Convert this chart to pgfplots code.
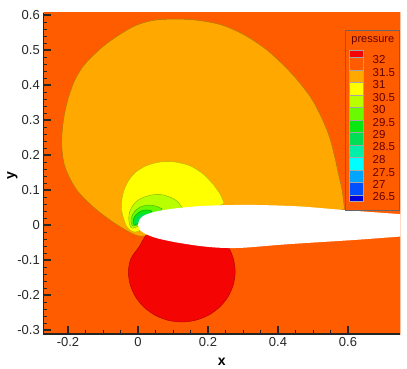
\documentclass[border=0pt]{standalone}
\usepackage{fontspec}
\setmainfont{Liberation Sans}
\usepackage{pgfplots}
\pgfplotsset{compat=1.18}
\definecolor{c32}{RGB}{245,4,4}
\definecolor{c315}{RGB}{255,92,0}
\definecolor{c31}{RGB}{255,168,0}
\definecolor{c305}{RGB}{255,255,0}
\definecolor{c30}{RGB}{185,255,0}
\definecolor{c295}{RGB}{105,250,0}
\definecolor{c29}{RGB}{10,232,20}
\definecolor{c285}{RGB}{0,222,85}
\definecolor{c28}{RGB}{0,240,170}
\definecolor{c275}{RGB}{0,255,255}
\definecolor{c27}{RGB}{0,165,255}
\definecolor{c265}{RGB}{0,80,255}
\definecolor{c26}{RGB}{0,0,220}
\definecolor{legtext}{RGB}{100,0,0}
\begin{document}
\begin{tikzpicture}
\begin{axis}[
  name=ax,
  scale only axis, width=357pt, height=321pt,
  xmin=-0.2706, xmax=0.7494, ymin=-0.3114, ymax=0.6057,
  axis on top,
  axis x line*=bottom, axis y line*=left,
  axis line style={-, line width=1.5pt, black!85},
  xtick={-0.2,0,0.2,0.4,0.6}, xticklabels={-0.2,0,0.2,0.4,0.6},
  ytick={-0.3,-0.2,-0.1,0,0.1,0.2,0.3,0.4,0.5,0.6},
  yticklabels={-0.3,-0.2,-0.1,0,0.1,0.2,0.3,0.4,0.5,0.6},
  minor x tick num=3, minor y tick num=4,
  xtick align=inside, ytick align=inside,
  major tick length=8pt, minor tick length=4pt,
  major tick style={line width=1.4pt, black!85},
  minor tick style={line width=0.7pt, black!85},
  ticklabel style={font=\fontsize{13}{15}\selectfont, text=black!85},
  xlabel={x}, ylabel={y},
  label style={font=\bfseries\fontsize{14}{16}\selectfont},
  xlabel style={at={(axis description cs:0.5,-0.0855)}, anchor=center},
  ylabel style={at={(axis description cs:-0.0863,0.495)}, anchor=center},
]
% 31.5-32 background
\addplot[fill=c315, draw=none] coordinates {(-0.3,-0.35) (0.8,-0.35) (0.8,0.65) (-0.3,0.65)} -- cycle;
% 31-31.5
\addplot[smooth, fill=c31, draw=c31!70!black, line width=0.5pt] coordinates {
(0.590,0.045) (0.583,0.100) (0.573,0.145) (0.562,0.195) (0.547,0.252) (0.523,0.310)
(0.492,0.367) (0.438,0.434) (0.372,0.497) (0.304,0.543) (0.234,0.573) (0.149,0.587)
(0.053,0.586) (-0.013,0.567) (-0.089,0.519) (-0.150,0.462) (-0.180,0.415) (-0.200,0.360)
(-0.213,0.300) (-0.218,0.233) (-0.209,0.167) (-0.175,0.100) (-0.118,0.043) (-0.051,-0.005)
(0.006,-0.032) (0.07,-0.02) (0.3,0.0) (0.5,0.02)} -- cycle;
% 30.5-31
\addplot[smooth, fill=c305, draw=c305!70!black, line width=0.4pt] coordinates {
(0.246,0.063) (0.234,0.089) (0.214,0.117) (0.186,0.146) (0.149,0.169) (0.106,0.180)
(0.063,0.180) (0.023,0.169) (-0.009,0.149) (-0.031,0.120) (-0.044,0.085) (-0.047,0.043)
(-0.032,-0.005) (-0.006,-0.020) (0.04,0.0) (0.2,0.03)} -- cycle;
% 30-30.5
\addplot[smooth, fill=c30, draw=c30!70!black, line width=0.4pt] coordinates {
(0.126,0.049) (0.114,0.066) (0.097,0.077) (0.071,0.086) (0.040,0.086) (0.011,0.077)
(-0.009,0.063) (-0.023,0.040) (-0.026,0.014) (-0.017,-0.009) (0.02,0.005) (0.1,0.03)} -- cycle;
% 29.5-30
\addplot[smooth, fill=c295, draw=c295!70!black, line width=0.4pt] coordinates {
(0.069,0.046) (0.051,0.054) (0.029,0.057) (0.006,0.051) (-0.011,0.037) (-0.020,0.017)
(-0.014,-0.003) (0.02,0.01) (0.05,0.025)} -- cycle;
% 29-29.5
\addplot[smooth, fill=c29, draw=c29!70!black, line width=0.4pt] coordinates {
(0.040,0.040) (0.026,0.043) (0.009,0.040) (-0.006,0.029) (-0.014,0.014) (-0.011,0.0)
(0.01,0.01) (0.03,0.025)} -- cycle;
% 28.5-29
\addplot[smooth, fill=c285, draw=none] coordinates {
(0.026,0.031) (0.014,0.031) (0.0,0.026) (-0.009,0.014) (-0.009,0.003) (0.01,0.015)} -- cycle;
% 32 and above
\addplot[smooth, fill=c32, draw=c32!75!black, line width=0.5pt] coordinates {
(0.125,0.011) (0.0855,0.0061) (0.052,-0.008) (0.022,-0.031) (0.004,-0.061) (-0.020,-0.0957)
(-0.0275,-0.133) (-0.0223,-0.1703) (-0.0071,-0.205) (0.0172,-0.2348) (0.0488,-0.2577)
(0.0855,-0.2721) (0.125,-0.277) (0.1645,-0.2721) (0.2013,-0.2577) (0.2328,-0.2348)
(0.2571,-0.205) (0.2723,-0.1703) (0.2775,-0.133) (0.2723,-0.0957) (0.2571,-0.061)
(0.2328,-0.0312) (0.2013,-0.0083) (0.1645,0.0061)} -- cycle;
% airfoil
\addplot[smooth, fill=white, draw=none] coordinates {
(0,0) (0.004,0.015) (0.015,0.026) (0.034,0.034) (0.063,0.041) (0.111,0.048) (0.177,0.054)
(0.263,0.057) (0.349,0.057) (0.463,0.053) (0.586,0.043) (0.749,0.031) (0.80,0.027)
(0.80,-0.030) (0.749,-0.033) (0.614,-0.043) (0.426,-0.055) (0.300,-0.065) (0.234,-0.065)
(0.177,-0.060) (0.111,-0.050) (0.063,-0.040) (0.034,-0.031) (0.015,-0.022) (0.004,-0.013)} -- cycle;
% legend
\draw[black!60, line width=0.6pt] (axis cs:0.591,0.557) rectangle (axis cs:0.746,0.041);
\node[font=\fontsize{11}{12}\selectfont, text=legtext, inner sep=0pt] at (axis cs:0.671,0.526) {pressure};
\fill[c32, draw=black!35, line width=0.3pt] (axis cs:0.603,0.500) rectangle (axis cs:0.643,0.479);
\fill[c315, draw=black!35, line width=0.3pt] (axis cs:0.603,0.479) rectangle (axis cs:0.643,0.443);
\fill[c31, draw=black!35, line width=0.3pt] (axis cs:0.603,0.443) rectangle (axis cs:0.643,0.408);
\fill[c305, draw=black!35, line width=0.3pt] (axis cs:0.603,0.408) rectangle (axis cs:0.643,0.371);
\fill[c30, draw=black!35, line width=0.3pt] (axis cs:0.603,0.371) rectangle (axis cs:0.643,0.336);
\fill[c295, draw=black!35, line width=0.3pt] (axis cs:0.603,0.336) rectangle (axis cs:0.643,0.300);
\fill[c29, draw=black!35, line width=0.3pt] (axis cs:0.603,0.300) rectangle (axis cs:0.643,0.265);
\fill[c285, draw=black!35, line width=0.3pt] (axis cs:0.603,0.265) rectangle (axis cs:0.643,0.229);
\fill[c28, draw=black!35, line width=0.3pt] (axis cs:0.603,0.229) rectangle (axis cs:0.643,0.193);
\fill[c275, draw=black!35, line width=0.3pt] (axis cs:0.603,0.193) rectangle (axis cs:0.643,0.157);
\fill[c27, draw=black!35, line width=0.3pt] (axis cs:0.603,0.157) rectangle (axis cs:0.643,0.122);
\fill[c265, draw=black!35, line width=0.3pt] (axis cs:0.603,0.122) rectangle (axis cs:0.643,0.086);
\fill[c26, draw=black!35, line width=0.3pt] (axis cs:0.603,0.086) rectangle (axis cs:0.643,0.067);
\begin{scope}[every node/.style={anchor=west, inner sep=0pt, text=legtext, font=\fontsize{11.5}{13}\selectfont}]
\node at (axis cs:0.670,0.473) {32};
\node at (axis cs:0.670,0.437) {31.5};
\node at (axis cs:0.670,0.402) {31};
\node at (axis cs:0.670,0.365) {30.5};
\node at (axis cs:0.670,0.330) {30};
\node at (axis cs:0.670,0.294) {29.5};
\node at (axis cs:0.670,0.259) {29};
\node at (axis cs:0.670,0.223) {28.5};
\node at (axis cs:0.670,0.187) {28};
\node at (axis cs:0.670,0.151) {27.5};
\node at (axis cs:0.670,0.116) {27};
\node at (axis cs:0.670,0.080) {26.5};
\end{scope}
\end{axis}
\pgfresetboundingbox
\path[use as bounding box] (ax.south west) ++(-43.3pt,-34pt) rectangle ++(407pt,368pt);
\end{tikzpicture}
\end{document}
